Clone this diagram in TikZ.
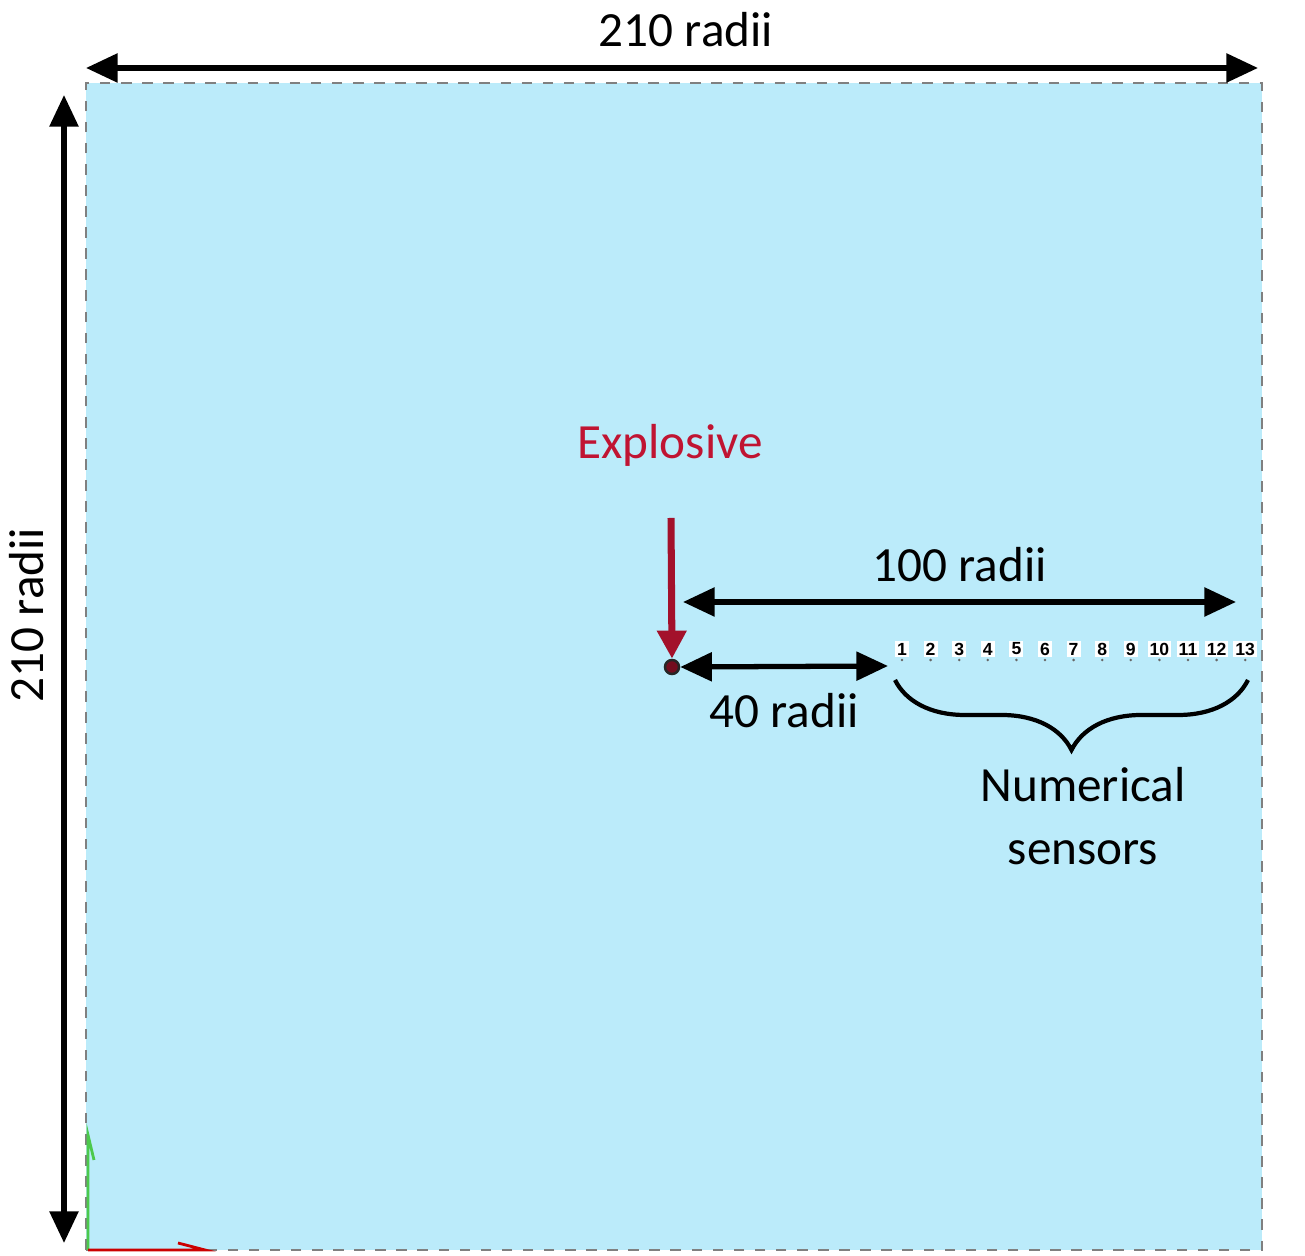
\documentclass[tikz,border=0pt]{standalone}
\usepackage{fontspec}
\setmainfont{Carlito}
\newfontfamily\sensorfont{Liberation Sans}
\usetikzlibrary{arrows.meta,decorations.pathreplacing}
\definecolor{domainblue}{RGB}{187,235,250}
\definecolor{explred}{RGB}{192,20,50}
\tikzset{
  dimarrow/.style={line width=1.5pt, {Triangle[length=9pt,width=8pt]}-{Triangle[length=9pt,width=8pt]}},
  dimlabel/.style={font=\fontsize{14}{17}\selectfont, inner sep=1pt},
  sensorlabel/.style={font=\sensorfont\bfseries\fontsize{5}{6}\selectfont, fill=white, inner sep=0.6pt}
}
\begin{document}
\begin{tikzpicture}
\useasboundingbox (0,0) rectangle (13.05,12.56);
\draw[dashed, gray, line width=0.4pt, fill=domainblue] (0.86,0.06) rectangle (12.62,11.73);
\coordinate (topl) at (0.86,11.88);
\coordinate (topr) at (12.58,11.88);
\coordinate (lefttop) at (0.64,11.61);
\coordinate (leftbot) at (0.64,0.13);
\draw[dimarrow] (topl)--(topr);
\node[dimlabel] (toplabel) at (6.86,12.26) {210 radii};
\draw[dimarrow] (lefttop)--(leftbot);
\node[dimlabel, rotate=90] (leftlabel) at (0.27,6.41) {210 radii};
\node[dimlabel, text=explred] (expl) at (6.70,8.11) {Explosive};
\coordinate (explarrow) at (6.71,7.38);
\node[circle, draw=black!85, fill=explred!60!black, line width=0.7pt, inner sep=0pt, minimum size=4pt] (src) at (6.72,5.89) {};
\draw[line width=2pt, explred!85!black, -{Triangle[length=8pt,width=8pt]}] (explarrow)--(src.north);
\coordinate (far1) at (6.83,6.54);
\coordinate (far2) at (12.36,6.54);
\draw[dimarrow] (far1)--(far2) node[dimlabel, midway, above=4pt]{100 radii};
\coordinate (near2) at (8.88,5.90);
\draw[dimarrow] (src.east)--(near2) node[dimlabel, midway, below=6pt]{40 radii};
\foreach \i in {1,...,13}{
  \node[sensorlabel] (s\i) at ({9.02+(\i-1)*0.286},6.07) {\i};
  \fill[black!60] ({9.02+(\i-1)*0.286},5.96) circle (0.4pt);
}
\coordinate (bracel) at (8.95,5.76);
\coordinate (bracer) at (12.48,5.76);
\draw[line width=1.2pt, decorate, decoration={brace, amplitude=0.7cm}] (bracer)--(bracel);
\node[dimlabel, align=center, font=\fontsize{14}{18}\selectfont] (numsens) at (10.83,4.40) {Numerical\\sensors};
% axes triad
\coordinate (orig) at (0.88,0.06);
\coordinate (yaxis) at (0.88,1.21);
\coordinate (xaxis) at (2.05,0.06);
\draw[green!70!black!70, line width=0.8pt] (orig)--(yaxis)--(0.94,0.96);
\draw[red!80!black, line width=0.8pt] (orig)--(xaxis)--(1.78,0.13);
\end{tikzpicture}
\end{document}
